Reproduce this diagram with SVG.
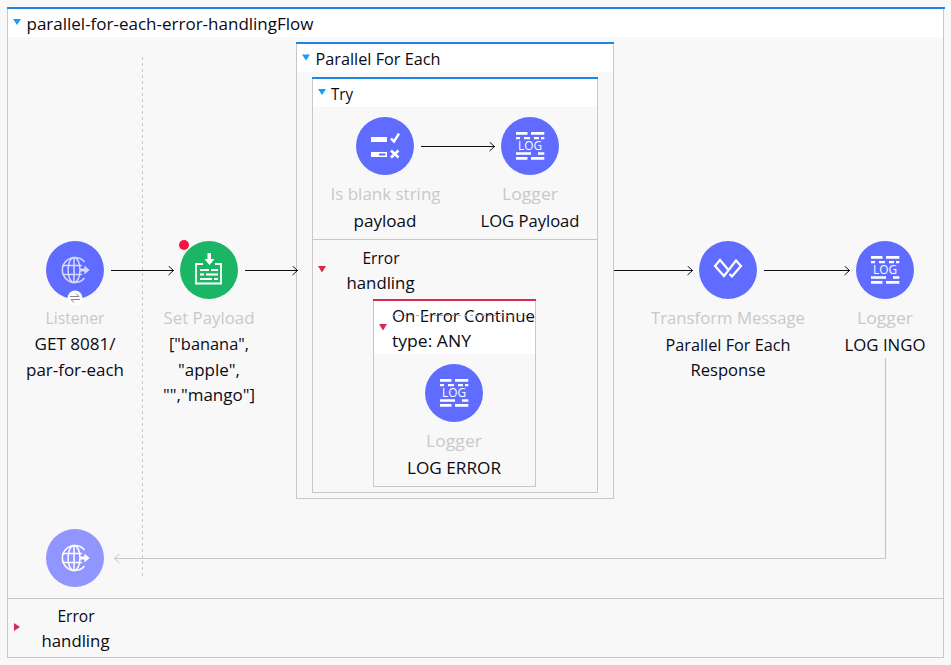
<svg xmlns="http://www.w3.org/2000/svg" width="951" height="665" viewBox="0 0 951 665">
<style>
text{font-family:"Open Sans","Noto Sans","Liberation Sans",sans-serif;font-size:17px;fill:#0a0a14;text-anchor:middle}
.s{text-anchor:start}
.g{fill:#c9c9c9}
.box{fill:#f8f8f8;stroke:#c8c8c8;stroke-width:1}
.c{fill:#5f6cff}
.w{fill:#fff}
.i{fill:none;stroke:#fff;stroke-width:1.500}
.a{fill:none;stroke:#111;stroke-width:1.200}
.r{fill:none;stroke:#c8c8c8;stroke-width:1.200}
</style>
<defs>
<marker id="ah" markerWidth="9" markerHeight="11" refX="7" refY="5" orient="auto" markerUnits="userSpaceOnUse"><path d="M1.500 0.500L6.500 5L1.500 9.500" fill="none" stroke="#111" stroke-width="1"/></marker>
<marker id="ag" markerWidth="9" markerHeight="11" refX="7" refY="5" orient="auto" markerUnits="userSpaceOnUse"><path d="M1.500 0.500L6.500 5L1.500 9.500" fill="none" stroke="#c8c8c8" stroke-width="1"/></marker>
<g id="log"><path class="w" d="M-14-14h11.500v2.700h-11.500zM1-14h13.300v2.700h-13.300zM-14-9h4v2.200h-4zM-6-9h6v2.200h-6zM4-9h5v2.200h-5zM11-9h3.300v2.200h-3.300zM-14 6.300h15v2.400h-15zM8 6.300h6.300v2.400h-6.300zM-14 11h11.500v2.700h-11.500zM1 11h13.300v2.700h-13.300z"/><text x="0" y="4.300" textLength="24" lengthAdjust="spacingAndGlyphs" style="font-size:12.500px;fill:#fff">LOG</text></g>
<g id="globe"><g class="i"><path d="M9.500 -8A12.500 12.500 0 1 0 9.500 8"/><ellipse cx="-1" cy="0" rx="6" ry="12.500"/><path d="M-1-12.500V12.500M-12.500-4.500H7M-12.500 4.500H7"/></g><path class="w" d="M5 -1.500h4.500v-3l5 4.500l-5 4.500v-3h-4.500z"/></g>
</defs>
<rect width="951" height="665" fill="#f8f8f8"/>

<g id="flow">
<rect class="box" x="7.500" y="8" width="936" height="649.500"/>
<rect x="8" y="9" width="935" height="28" fill="#fff"/>
<rect x="7" y="7" width="938" height="2" fill="#1a87e6"/>
<path d="M13 19h8l-4 6z" fill="#1a9bf5"/>
<text class="s" x="26.500" y="30" textLength="287" lengthAdjust="spacingAndGlyphs">parallel-for-each-error-handlingFlow</text>
<path d="M142.500 57V577" fill="none" stroke="#c8c8c8" stroke-dasharray="3 3"/>
<path d="M8 598.500H943" stroke="#c8c8c8" fill="none"/>
</g>

<g id="parallel-for-each">
<rect class="box" x="296.500" y="43" width="317" height="455.500"/>
<rect x="297" y="44" width="316" height="28" fill="#fff"/>
<rect x="296" y="42" width="318" height="2" fill="#1a87e6"/>
<path d="M302 54.500h8l-4 6z" fill="#1a9bf5"/>
<text class="s" x="315.500" y="65" textLength="125" lengthAdjust="spacingAndGlyphs">Parallel For Each</text>
</g>

<g id="try">
<rect class="box" x="312.500" y="78" width="285" height="414.500"/>
<rect x="313" y="79" width="284" height="28" fill="#fff"/>
<rect x="312" y="77" width="286" height="2" fill="#1a87e6"/>
<path d="M318 89h8l-4 6z" fill="#1a9bf5"/>
<text class="s" x="331" y="100" textLength="22" lengthAdjust="spacingAndGlyphs">Try</text>
<path d="M313 239.500H597" stroke="#c8c8c8" fill="none"/>
<path d="M318 266h8l-4 6.500z" fill="#d42c50"/>
<text x="381" y="264" textLength="37" lengthAdjust="spacingAndGlyphs">Error</text>
<text x="380.500" y="289" textLength="68" lengthAdjust="spacingAndGlyphs">handling</text>
</g>

<g id="on-error-continue">
<rect class="box" x="373.500" y="300" width="162" height="186.500"/>
<rect x="374" y="301" width="161" height="53" fill="#fff"/>
<rect x="373" y="299" width="163" height="2" fill="#d42c50"/>
<path d="M379 324h8l-4 6.500z" fill="#d42c50"/>
<text class="s" x="392" y="322" textLength="143" lengthAdjust="spacingAndGlyphs">On Error Continue</text>
<path d="M392 315.500H535" stroke="#a8a8a8" stroke-dasharray="3 3" fill="none"/>
<text class="s" x="392" y="347" textLength="79" lengthAdjust="spacingAndGlyphs">type: ANY</text>
</g>

<g id="connectors">
<path class="a" d="M111 270.500H174" marker-end="url(#ah)"/>
<path class="a" d="M245 270.500H298" marker-end="url(#ah)"/>
<path class="a" d="M421 146.500H495" marker-end="url(#ah)"/>
<path class="a" d="M614 270.500H693" marker-end="url(#ah)"/>
<path class="a" d="M764 270.500H850" marker-end="url(#ah)"/>
<path class="r" d="M885.500 358V558.500H114" marker-end="url(#ag)"/>
</g>

<g id="listener">
<circle class="c" cx="75" cy="270" r="29"/>
<use href="#globe" x="75" y="270" opacity=".75"/>
<circle cx="75" cy="298" r="7.500" fill="#fff"/>
<path d="M70 296.500h9l-3-3M80 299.500h-9l3 3" fill="none" stroke="#888" stroke-width="1"/>
<text class="g" x="75" y="324" textLength="59" lengthAdjust="spacingAndGlyphs">Listener</text>
<text x="75" y="350" textLength="81" lengthAdjust="spacingAndGlyphs">GET 8081/</text>
<text x="75" y="376" textLength="98" lengthAdjust="spacingAndGlyphs">par-for-each</text>
</g>

<g id="set-payload">
<circle cx="184" cy="245" r="5" fill="#f5123f"/>
<circle cx="209" cy="270" r="29" fill="#1bb665"/>
<path d="M203 264h-7v19.500h25v-19.500h-6" fill="none" stroke="#fff" stroke-width="1.800"/>
<path class="w" d="M207.500 253h3.500v6h3.500l-5 6l-5-6h3zM200 269h9v2h-9zM211 269h7v2h-7zM200 273.500h4v2h-4zM206 273.500h12v2h-12zM200 278h12v2h-12zM214 278h4v2h-4z"/>
<text class="g" x="209" y="324" textLength="91" lengthAdjust="spacingAndGlyphs">Set Payload</text>
<text x="209" y="350" textLength="80" lengthAdjust="spacingAndGlyphs">["banana",</text>
<text x="209" y="376" textLength="62" lengthAdjust="spacingAndGlyphs">"apple",</text>
<text x="209" y="401" textLength="92" lengthAdjust="spacingAndGlyphs">"","mango"]</text>
</g>

<g id="is-blank-string">
<circle class="c" cx="385" cy="146" r="29"/>
<path class="w" d="M371 137h16v5h-16zM371 152h16v5h-16z"/>
<rect x="379" y="153.500" width="6.500" height="2" fill="#5f6cff"/>
<path d="M391 138.500l3 3l5-8" fill="none" stroke="#fff" stroke-width="2.400"/>
<path d="M391 150.500l7.500 7M398.500 150.500l-7.500 7" fill="none" stroke="#fff" stroke-width="2.600"/>
<text class="g" x="385.500" y="200" textLength="110" lengthAdjust="spacingAndGlyphs">Is blank string</text>
<text x="385" y="227" textLength="63" lengthAdjust="spacingAndGlyphs">payload</text>
</g>

<g id="logger-payload">
<circle class="c" cx="530" cy="146" r="29"/>
<use href="#log" x="530" y="146"/>
<text class="g" x="530" y="200" textLength="56" lengthAdjust="spacingAndGlyphs">Logger</text>
<text x="530" y="227" textLength="99" lengthAdjust="spacingAndGlyphs">LOG Payload</text>
</g>

<g id="logger-error">
<circle class="c" cx="454" cy="393" r="29"/>
<use href="#log" x="454" y="393"/>
<text class="g" x="454" y="447" textLength="56" lengthAdjust="spacingAndGlyphs">Logger</text>
<text x="454" y="474" textLength="94" lengthAdjust="spacingAndGlyphs">LOG ERROR</text>
</g>

<g id="transform-message">
<circle class="c" cx="728" cy="270" r="29"/>
<path d="M0.500 0L-8 -10L-13 -4L-4 6L8 -9.500L13 -4L4 6.500L1.500 4" transform="translate(728 270)" fill="none" stroke="#fff" stroke-width="2.200"/>
<text class="g" x="728" y="324" textLength="154" lengthAdjust="spacingAndGlyphs">Transform Message</text>
<text x="728" y="351" textLength="125" lengthAdjust="spacingAndGlyphs">Parallel For Each</text>
<text x="728" y="376" textLength="75" lengthAdjust="spacingAndGlyphs">Response</text>
</g>

<g id="logger-info">
<circle class="c" cx="885" cy="270" r="29"/>
<use href="#log" x="885" y="270"/>
<text class="g" x="885" y="324" textLength="56" lengthAdjust="spacingAndGlyphs">Logger</text>
<text x="885" y="351" textLength="81" lengthAdjust="spacingAndGlyphs">LOG INGO</text>
</g>

<g id="listener-response">
<circle cx="75" cy="558" r="29" fill="#9195ff"/>
<use href="#globe" x="75" y="558"/>
</g>

<g id="error-handling">
<path d="M14 623v8l6-4z" fill="#d42c50"/>
<text x="76" y="622" textLength="37" lengthAdjust="spacingAndGlyphs">Error</text>
<text x="75.500" y="647" textLength="68" lengthAdjust="spacingAndGlyphs">handling</text>
</g>
</svg>
